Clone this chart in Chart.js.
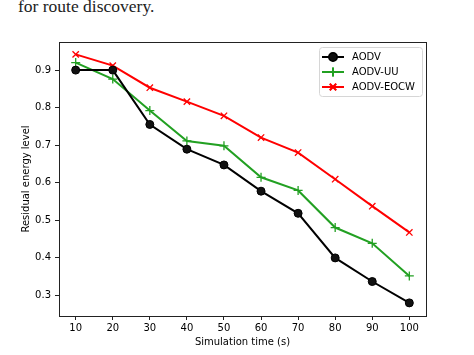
<!DOCTYPE html>
<html>
<head>
<meta charset="utf-8">
<script src="https://cdn.jsdelivr.net/npm/chart.js@4.4.1/dist/chart.umd.min.js"></script>
<style>
  html, body { margin: 0; padding: 0; background: #fff; }
  #wrap { position: relative; width: 474px; height: 355px; overflow: hidden; }
  #caption { position: absolute; left: 18px; top: -2px; font-family: "Liberation Serif", serif; font-size: 17.5px; line-height: 17px; color: #222; white-space: nowrap; }
  canvas { position: absolute; left: 0; top: 0; }
</style>
</head>
<body>
<div id="wrap">
  <div id="caption">for route discovery.</div>
  <canvas id="c" width="474" height="355"></canvas>
</div>
<script>
const times = [10, 20, 30, 40, 50, 60, 70, 80, 90, 100];
const aodv = [0.900, 0.900, 0.755, 0.689, 0.647, 0.577, 0.518, 0.399, 0.336, 0.279];
const aodvUU = [0.920, 0.876, 0.792, 0.711, 0.698, 0.614, 0.579, 0.480, 0.438, 0.351];
const aodvEOCW = [0.942, 0.912, 0.853, 0.816, 0.778, 0.720, 0.680, 0.609, 0.537, 0.467];
const xTicks = [10, 20, 30, 40, 50, 60, 70, 80, 90, 100];
const yTicks = [0.3, 0.4, 0.5, 0.6, 0.7, 0.8, 0.9];
const seriesNames = ["AODV", "AODV-UU", "AODV-EOCW"];

const FONT = "'DejaVu Sans', sans-serif";
const GREEN = "#22a022";

function pts(ys) { return times.map((t, i) => ({ x: t, y: ys[i] })); }

const boxPlugin = {
  id: 'box',
  afterDraw(chart) {
    const { ctx, chartArea: a } = chart;
    ctx.save();
    ctx.strokeStyle = '#222';
    ctx.lineWidth = 1;
    ctx.strokeRect(Math.round(a.left) + 0.5, Math.round(a.top) + 0.5, Math.round(a.right - a.left), Math.round(a.bottom - a.top));
    ctx.restore();
  }
};

const legendPlugin = {
  id: 'mplLegend',
  afterDraw(chart) {
    const { ctx } = chart;
    const x0 = 319, y0 = 47, w = 103, h = 49;
    ctx.save();
    ctx.fillStyle = 'rgba(255,255,255,0.85)';
    ctx.strokeStyle = '#d6d6d6';
    ctx.lineWidth = 1;
    ctx.beginPath();
    ctx.roundRect(x0 + 0.5, y0 + 0.5, w, h, 3);
    ctx.fill();
    ctx.stroke();
    ctx.font = "10px " + FONT;
    ctx.textBaseline = 'middle';
    chart.data.datasets.forEach((ds, i) => {
      const cy = y0 + 10 + i * 15;
      ctx.strokeStyle = ds.borderColor;
      ctx.lineWidth = ds.borderWidth;
      ctx.beginPath();
      ctx.moveTo(322, cy);
      ctx.lineTo(344, cy);
      ctx.stroke();
      Chart.helpers.drawPoint(ctx, {
        pointStyle: ds.pointStyle,
        radius: ds.pointRadius,
        rotation: 0,
        borderWidth: ds.pointBorderWidth
      }, 333, cy);
      ctx.fillStyle = ds.pointBackgroundColor;
      ctx.strokeStyle = ds.pointBorderColor;
      ctx.lineWidth = ds.pointBorderWidth;
      Chart.helpers.drawPoint(ctx, {
        pointStyle: ds.pointStyle,
        radius: ds.pointRadius,
        rotation: 0,
        borderWidth: ds.pointBorderWidth
      }, 333, cy);
      ctx.fillStyle = '#000';
      ctx.fillText(ds.label, 352, cy + 0.5);
    });
    ctx.restore();
  }
};

new Chart(document.getElementById('c'), {
  type: 'line',
  data: {
    datasets: [
      { label: seriesNames[0], data: pts(aodv), borderColor: '#000', backgroundColor: '#000',
        borderWidth: 2, pointStyle: 'circle', pointRadius: 4, pointBackgroundColor: '#111', pointBorderColor: '#000', pointBorderWidth: 1 },
      { label: seriesNames[1], data: pts(aodvUU), borderColor: GREEN, backgroundColor: GREEN,
        borderWidth: 2, pointStyle: 'cross', pointRadius: 4.5, pointBackgroundColor: GREEN, pointBorderColor: GREEN, pointBorderWidth: 1.3 },
      { label: seriesNames[2], data: pts(aodvEOCW), borderColor: '#ff0000', backgroundColor: '#ff0000',
        borderWidth: 2, pointStyle: 'crossRot', pointRadius: 4.5, pointBackgroundColor: '#ff0000', pointBorderColor: '#ff0000', pointBorderWidth: 1.3 }
    ]
  },
  options: {
    responsive: false,
    animation: false,
    devicePixelRatio: 1,
    layout: { padding: { left: 0, top: 42, right: 48, bottom: 0 } },
    plugins: { legend: { display: false }, tooltip: { enabled: false } },
    elements: { line: { tension: 0 } },
    scales: {
      x: {
        type: 'linear', min: 5.5, max: 104.5,
        afterBuildTicks: (s) => { s.ticks = xTicks.map(v => ({ value: v })); },
        afterFit: (s) => { s.height = 39; },
        border: { display: false },
        grid: { drawOnChartArea: false, drawTicks: true, tickLength: 4, color: '#222', tickWidth: 1 },
        ticks: { color: '#000', font: { family: FONT, size: 10 }, padding: 2, maxRotation: 0 },
        title: { display: true, text: 'Simulation time (s)', color: '#000', font: { family: FONT, size: 10 }, padding: { top: 0, bottom: 7 } }
      },
      y: {
        type: 'linear', min: 0.244, max: 0.975,
        afterBuildTicks: (s) => { s.ticks = yTicks.map(v => ({ value: v })); },
        afterFit: (s) => { s.width = 59; },
        border: { display: false },
        grid: { drawOnChartArea: false, drawTicks: true, tickLength: 4, color: '#222', tickWidth: 1 },
        ticks: { color: '#000', font: { family: FONT, size: 10 }, padding: 4, callback: (v) => Number(v).toFixed(1) },
        title: { display: true, text: 'Residual energy level', color: '#000', font: { family: FONT, size: 10 }, padding: { top: 20, bottom: 0 } }
      }
    }
  },
  plugins: [boxPlugin, legendPlugin]
});
</script>
</body>
</html>
